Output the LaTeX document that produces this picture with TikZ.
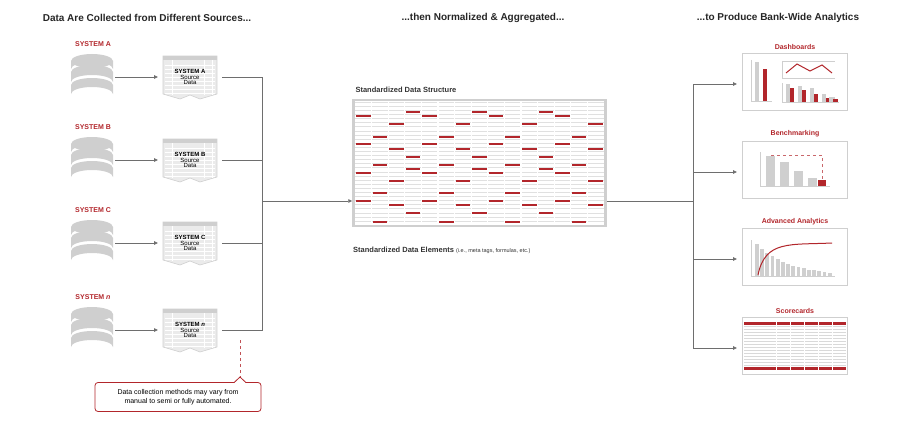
\documentclass[tikz,border=0pt]{standalone}
\usepackage{fontspec}
\setmainfont{Liberation Sans}
\usetikzlibrary{arrows.meta}
\definecolor{dred}{HTML}{B2262B}
\definecolor{lg}{HTML}{CFCFCF}
\definecolor{mg}{HTML}{6E6E6E}
\tikzset{
 hdr/.style={font=\bfseries\fontsize{10}{12}\selectfont, text=black!85},
 syslbl/.style={font=\bfseries\fontsize{7}{8}\selectfont, text=dred},
 plbl/.style={font=\bfseries\fontsize{7}{8}\selectfont, text=dred},
 conn/.style={draw=mg, line width=0.8pt},
 arr/.style={conn, -{Triangle[length=4pt,width=3.5pt]}},
 panel/.style={draw=lg, line width=1pt, fill=white, minimum width=105pt, minimum height=57pt, inner sep=0pt},
 doc/.style={font=\bfseries\fontsize{6}{6.5}\selectfont, align=center, inner sep=0pt, minimum width=54pt, minimum height=42pt},
}
\begin{document}
\begin{tikzpicture}[x=1pt,y=-1pt]
\useasboundingbox (0,0) rectangle (904,436);
\node[hdr] (h1) at (147,18) {Data Are Collected from Different Sources...};
\node[hdr] (h2) at (483,18) {...then Normalized \& Aggregated...};
\node[hdr] (h3) at (778,18) {...to Produce Bank-Wide Analytics};

% systems
\foreach \nm/\lab/\y in {a/SYSTEM A/77, b/SYSTEM B/160, c/SYSTEM C/243, n/SYSTEM \textit{n}/330}{
 \node[syslbl] (l\nm) at (93,\y-33) {\lab};
 % cylinder
 \begin{scope}[shift={(92,\y)}]
  \fill[lg] (-21,-16) -- (-21,-8) arc[start angle=180,end angle=360,x radius=21,y radius=7] -- (21,-16) -- cycle;
  \fill[lg] (0,-16) ellipse[x radius=21,y radius=7];
  \fill[lg] (-21,-5) -- (-21,5) arc[start angle=180,end angle=360,x radius=21,y radius=7] -- (21,-5) arc[start angle=0,end angle=-180,x radius=21,y radius=7];
  \fill[lg] (-21,8) -- (-21,17) arc[start angle=180,end angle=360,x radius=21,y radius=7] -- (21,8) arc[start angle=0,end angle=-180,x radius=21,y radius=7];
 \end{scope}
 \coordinate (cy\nm) at (115,\y);
 % document
 \begin{scope}[shift={(190,\y)}]
  \fill[black!8] (-27,-21) rectangle (27,17);
  \fill[black!8] (-27,17) -- (-10,22) -- (0,18) -- (10,22) -- (27,17) -- cycle;
  \draw[lg, line width=0.6pt] (-27,-21) -- (-27,17) -- (-10,22) -- (0,18) -- (10,22) -- (27,17) -- (27,-21) -- cycle;
  \foreach \yy in {-12,-8,...,16} \draw[white, line width=0.4pt] (-25,\yy) -- (25,\yy);
  \foreach \xx in {-18,14,22} \draw[white, line width=0.5pt] (\xx,-19) -- (\xx,18);
  \fill[lg] (-27,-21) rectangle (27,-17);
 \end{scope}
 \node[doc] (d\nm) at (190,\y) {\lab\\[-1pt]\mdseries Source\\[-1pt]\mdseries Data};
 \coordinate (dr\nm) at (222,\y);
 \draw[arr] (cy\nm) -- (158,\y);
}
% left bus
\coordinate (bt) at (262,77); \coordinate (bb) at (262,330);
\draw[conn] (dra) -- (bt) -- (bb) -- (drn);
\draw[conn] (drb) -- (262,160); \draw[conn] (drc) -- (262,243);

% grid
\node[font=\bfseries\fontsize{7.5}{8}\selectfont, anchor=west, text=black!80] (gt) at (352,90) {Standardized Data Structure};
\node[draw=lg, line width=2.5pt, fill=white, minimum width=252pt, minimum height=126pt, inner sep=0pt] (grid) at (479.5,163) {};
\foreach \i in {0,...,29} \draw[black!12, line width=0.4pt] (355,102+\i*4.1) -- (604,102+\i*4.1);
\foreach \i in {1,...,14} \draw[white, line width=1.2pt] (355+\i*16.6,101) -- (355+\i*16.6,225);
\foreach \c in {0,...,14}{
  \pgfmathtruncatemacro{\m}{mod(\c,4)}
  \ifcase\m
    \foreach \yy in {116,144,173,201} \fill[dred] (356+\c*16.6,\yy-1.3) rectangle (370.5+\c*16.6,\yy+1.3);
  \or
    \foreach \yy in {137,165,193,222} \fill[dred] (356+\c*16.6,\yy-1.3) rectangle (370.5+\c*16.6,\yy+1.3);
  \or
    \foreach \yy in {124,149,181,205} \fill[dred] (356+\c*16.6,\yy-1.3) rectangle (370.5+\c*16.6,\yy+1.3);
  \or
    \foreach \yy in {112,157,169,213} \fill[dred] (356+\c*16.6,\yy-1.3) rectangle (370.5+\c*16.6,\yy+1.3);
  \fi
}
\node[anchor=west, text=black!80, inner sep=0pt] (ge) at (353,250) {\fontsize{7.5}{8}\selectfont\bfseries Standardized Data Elements \fontsize{5.5}{6}\selectfont\mdseries (i.e., meta tags, formulas, etc.)};
\draw[arr] (262,201) -- (grid.west |- 0,201);

% right bus
\coordinate (rb) at (693,201);
\draw[conn] (grid.east |- 0,201) -- (rb);
\draw[conn] (693,84) -- (693,348);
\foreach \nm/\lab/\y in {p1/Dashboards/82, p2/Benchmarking/170, p3/Advanced Analytics/257, p4/Scorecards/346}{
 \node[panel] (\nm) at (795,\y) {};
 \node[plbl, anchor=south] (t\nm) at (\nm.north) {\lab};
 \draw[arr] (693,\y+2) -- (737,\y+2);
}
% dashboards
\draw[lg] (751,60) -- (751,101) -- (772,101);
\fill[lg] (755,62) rectangle (759,101);
\fill[dred] (763,69) rectangle (767,101);
\draw[lg] (782,61) -- (782,78) -- (835,78); \draw[lg] (782,61) -- (835,61);
\draw[dred, line width=1pt] (786,73) -- (797,64) -- (810,71) -- (822,65) -- (832,73);
\draw[lg] (782,83) -- (782,102) -- (839,102);
\foreach \x/\ha/\hb in {786/84/88, 798/86/90, 810/88/94, 822/94/98}{
 \fill[lg] (\x,\ha) rectangle (\x+4,102); \fill[dred] (\x+4,\hb) rectangle (\x+8,102);}
\fill[lg] (829,97) rectangle (835,102); \fill[dred] (833,99) rectangle (838,102);
% benchmarking
\draw[lg] (760,152) -- (760,186) -- (830,186);
\foreach \x/\h in {766/156,780/162,794/171,808/178} \fill[lg] (\x,\h) rectangle (\x+9,186);
\draw[dred!70, dashed, line width=0.8pt] (771,155) -- (822,155) -- (822,181);
\fill[dred] (818,180) rectangle (826,186);
% advanced
\draw[lg] (751,240) -- (751,276) -- (835,276);
\foreach \i in {0,...,14}{\pgfmathsetmacro{\h}{276-32*exp(-\i*0.16)} \fill[lg] (755+\i*5.2,\h) rectangle (758.8+\i*5.2,276);}
\draw[dred, line width=1pt] (758,275) .. controls (765,240) and (790,245) .. (832,243);
% scorecards
\foreach \yy in {326,329,...,365} \draw[black!15, line width=0.4pt] (744,\yy) -- (846,\yy);
\fill[dred] (744,322) rectangle (846,325);
\fill[dred] (744,367) rectangle (846,370);
\foreach \xx in {776,790,804,818,832} \draw[white, line width=0.8pt] (\xx,320) -- (\xx,372);

% callout
\draw[dred!80, dashed, line width=0.7pt] (240,340) -- (240,380);
\node[draw=dred, line width=0.8pt, rounded corners=3pt, fill=white, align=center, font=\fontsize{7}{8.5}\selectfont, minimum width=166pt, minimum height=29pt, inner sep=2pt] (call) at (178,397) {Data collection methods may vary from\\manual to semi or fully automated.};
\fill[white] (234,383) -- (240,377) -- (246,383) -- cycle;
\draw[dred, line width=0.8pt] (234,382.6) -- (240,377) -- (246,382.6);
\end{tikzpicture}
\end{document}
